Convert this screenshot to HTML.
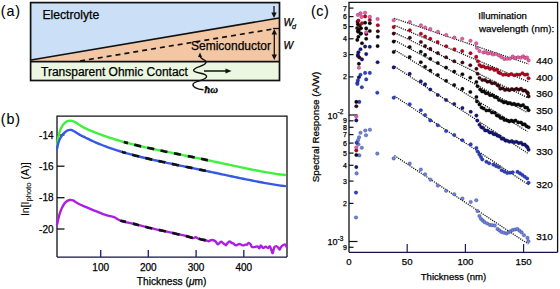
<!DOCTYPE html><html><head><meta charset="utf-8"><style>
html,body{margin:0;padding:0;background:#fff;width:560px;height:289px;overflow:hidden}
svg{display:block}
text{font-family:"Liberation Sans", sans-serif;fill:#000;stroke:#000;stroke-width:0.25px}
</style></head><body>
<svg width="560" height="289" viewBox="0 0 560 289">
<text x="0.8" y="16.4" font-size="14.3" letter-spacing="0.9" style="stroke-width:0.1px">(a)</text>
<polygon points="31,3 279,3 279,18 31,60" fill="#cbe0f6"/>
<polygon points="31,60 279,18 279,61 31,61" fill="#f3c7a4"/>
<rect x="31" y="61" width="248" height="19" fill="#ecf7e2"/>
<line x1="31" y1="60" x2="279" y2="18" stroke="#111" stroke-width="1.6"/>
<line x1="31" y1="61.6" x2="279" y2="61.6" stroke="#111" stroke-width="1.7"/>
<line x1="80" y1="61" x2="273" y2="29" stroke="#111" stroke-width="1.7" stroke-dasharray="5,4"/>
<rect x="30.6" y="2.6" width="248.9" height="77.9" fill="none" stroke="#111" stroke-width="1.7"/>
<line x1="274" y1="6" x2="274" y2="14" stroke="#111" stroke-width="1.3"/>
<polygon points="271.3,12.5 276.7,12.5 274,18" fill="#111"/>
<line x1="273" y1="28.5" x2="279" y2="28.5" stroke="#111" stroke-width="1.3"/>
<line x1="274.3" y1="33" x2="274.3" y2="56" stroke="#111" stroke-width="1.3"/>
<polygon points="271.6,34.5 277,34.5 274.3,29" fill="#111"/>
<polygon points="271.6,54.5 277,54.5 274.3,60" fill="#111"/>
<text x="42.4" y="18.9" font-size="12.2">Electrolyte</text>
<text x="191" y="49.8" font-size="12">Semiconductor</text>
<text x="41" y="76.3" font-size="12">Transparent Ohmic Contact</text>
<text x="283.6" y="26.2" font-size="10.3" font-style="italic">W</text>
<text x="292" y="28.6" font-size="7.2" font-style="italic">d</text>
<text x="283.6" y="49.2" font-size="10.3" font-style="italic">W</text>
<line x1="204" y1="71" x2="226" y2="71" stroke="#111" stroke-width="1.5"/>
<polygon points="225.5,68.6 225.5,73.4 231.6,71" fill="#111"/>
<path d="M203.5,89.8 C197,89 192.5,87 193,84.3 C193.5,81 206.5,80.5 206.6,76.5 C206.7,72.5 193.5,73.5 193.6,70.3 C193.7,66.5 206.2,66.5 206,62 C205.8,59 200,59.5 200,56" fill="none" stroke="#111" stroke-width="1.4"/>
<polygon points="198,57 202,57 200,52.5" fill="#111"/>
<text x="204.3" y="92.6" font-size="10.8" font-weight="bold" font-style="italic" style="font-family:&quot;Liberation Serif&quot;,serif">&#x127;&#x3c9;</text>
<text x="0.8" y="123.9" font-size="14.3" letter-spacing="0.9" style="stroke-width:0.1px">(b)</text>
<path d="M57,257 V116.2 H287 V257" fill="none" stroke="#111" stroke-width="1.3"/><line x1="57" y1="257.2" x2="287" y2="257.2" stroke="#121240" stroke-width="1.3"/>
<line x1="57" y1="135" x2="64.5" y2="135" stroke="#111" stroke-width="1.3"/>
<line x1="57" y1="166.2" x2="64.5" y2="166.2" stroke="#111" stroke-width="1.3"/>
<line x1="57" y1="197.7" x2="64.5" y2="197.7" stroke="#111" stroke-width="1.3"/>
<line x1="57" y1="229" x2="64.5" y2="229" stroke="#111" stroke-width="1.3"/>
<line x1="100.7" y1="250" x2="100.7" y2="257" stroke="#1a1a70" stroke-width="1.3"/>
<line x1="148.3" y1="250" x2="148.3" y2="257" stroke="#1a1a70" stroke-width="1.3"/>
<line x1="196.1" y1="250" x2="196.1" y2="257" stroke="#1a1a70" stroke-width="1.3"/>
<line x1="243.8" y1="250" x2="243.8" y2="257" stroke="#1a1a70" stroke-width="1.3"/>
<g fill="none" stroke-width="2.4" stroke-linejoin="round" stroke-linecap="round">
<path d="M57.10,145.00 C57.33,143.53 57.93,138.82 58.50,136.20 C59.07,133.58 59.70,131.27 60.50,129.30 C61.30,127.33 62.25,125.72 63.30,124.40 C64.35,123.08 65.62,122.03 66.80,121.40 C67.98,120.77 69.20,120.57 70.40,120.60 C71.60,120.63 72.82,121.08 74.00,121.60 C75.18,122.12 76.42,123.03 77.50,123.70 C78.58,124.37 79.42,124.94 80.50,125.60 C81.58,126.26 82.92,127.11 84.00,127.68 C85.08,128.26 86.00,128.61 87.00,129.06 C88.00,129.51 89.00,129.95 90.00,130.37 C91.00,130.80 92.00,131.22 93.00,131.63 C94.00,132.05 95.00,132.45 96.00,132.84 C97.00,133.24 98.00,133.62 99.00,134.00 C100.00,134.38 101.00,134.74 102.00,135.11 C103.00,135.47 104.00,135.82 105.00,136.17 C106.00,136.52 107.00,136.86 108.00,137.19 C109.00,137.52 110.00,137.85 111.00,138.17 C112.00,138.49 113.00,138.81 114.00,139.11 C115.00,139.42 116.00,139.72 117.00,140.02 C118.00,140.32 119.00,140.61 120.00,140.90 C121.00,141.18 122.00,141.46 123.00,141.74 C124.00,142.02 125.00,142.29 126.00,142.56 C127.00,142.82 128.00,143.09 129.00,143.34 C130.00,143.60 131.00,143.86 132.00,144.11 C133.00,144.36 134.00,144.61 135.00,144.85 C136.00,145.10 137.00,145.34 138.00,145.57 C139.00,145.81 140.00,146.05 141.00,146.28 C142.00,146.51 143.00,146.74 144.00,146.97 C145.00,147.19 146.00,147.42 147.00,147.64 C148.00,147.86 149.00,148.08 150.00,148.30 C151.00,148.52 152.00,148.73 153.00,148.95 C154.00,149.16 155.00,149.38 156.00,149.59 C157.00,149.80 158.00,150.01 159.00,150.22 C160.00,150.43 161.00,150.64 162.00,150.84 C163.00,151.05 164.00,151.26 165.00,151.46 C166.00,151.67 167.00,151.87 168.00,152.08 C169.00,152.28 170.00,152.48 171.00,152.69 C172.00,152.89 173.00,153.09 174.00,153.29 C175.00,153.50 176.00,153.70 177.00,153.90 C178.00,154.10 179.00,154.31 180.00,154.51 C181.00,154.71 182.00,154.91 183.00,155.12 C184.00,155.32 185.00,155.52 186.00,155.72 C187.00,155.93 188.00,156.13 189.00,156.33 C190.00,156.54 191.00,156.74 192.00,156.95 C193.00,157.15 194.00,157.36 195.00,157.56 C196.00,157.77 197.00,157.97 198.00,158.18 C199.00,158.39 200.00,158.59 201.00,158.80 C202.00,159.01 203.00,159.22 204.00,159.43 C205.00,159.64 206.00,159.85 207.00,160.06 C208.00,160.27 209.00,160.48 210.00,160.69 C211.00,160.90 212.00,161.11 213.00,161.32 C214.00,161.53 215.00,161.75 216.00,161.96 C217.00,162.17 218.00,162.39 219.00,162.60 C220.00,162.81 221.00,163.03 222.00,163.24 C223.00,163.46 224.00,163.67 225.00,163.89 C226.00,164.10 227.00,164.31 228.00,164.53 C229.00,164.74 230.00,164.96 231.00,165.17 C232.00,165.39 233.00,165.60 234.00,165.81 C235.00,166.03 236.00,166.24 237.00,166.45 C238.00,166.67 239.00,166.88 240.00,167.09 C241.00,167.30 242.00,167.51 243.00,167.72 C244.00,167.93 245.00,168.14 246.00,168.35 C247.00,168.55 248.00,168.76 249.00,168.96 C250.00,169.17 251.00,169.37 252.00,169.57 C253.00,169.77 254.00,169.97 255.00,170.16 C256.00,170.36 257.00,170.55 258.00,170.75 C259.00,170.94 260.00,171.13 261.00,171.31 C262.00,171.50 263.00,171.68 264.00,171.86 C265.00,172.04 266.00,172.22 267.00,172.39 C268.00,172.56 269.00,172.73 270.00,172.89 C271.00,173.06 272.00,173.22 273.00,173.37 C274.00,173.53 275.00,173.68 276.00,173.82 C277.00,173.97 278.00,174.11 279.00,174.24 C280.00,174.38 281.00,174.51 282.00,174.63 C283.00,174.75 284.50,174.92 285.00,174.98" stroke="#3ff03c"/>
<path d="M57.10,148.60 C57.33,147.57 57.82,144.40 58.50,142.40 C59.18,140.40 60.17,138.25 61.20,136.60 C62.23,134.95 63.50,133.57 64.70,132.50 C65.90,131.43 67.28,130.62 68.40,130.20 C69.52,129.78 70.38,129.78 71.40,130.00 C72.42,130.22 73.40,130.87 74.50,131.50 C75.60,132.13 76.92,133.13 78.00,133.80 C79.08,134.47 80.00,134.98 81.00,135.50 C82.00,136.02 83.00,136.44 84.00,136.93 C85.00,137.41 86.00,137.94 87.00,138.43 C88.00,138.92 89.00,139.39 90.00,139.86 C91.00,140.33 92.00,140.79 93.00,141.23 C94.00,141.68 95.00,142.12 96.00,142.55 C97.00,142.97 98.00,143.39 99.00,143.80 C100.00,144.21 101.00,144.61 102.00,145.00 C103.00,145.39 104.00,145.78 105.00,146.15 C106.00,146.53 107.00,146.90 108.00,147.26 C109.00,147.62 110.00,147.97 111.00,148.31 C112.00,148.66 113.00,149.00 114.00,149.33 C115.00,149.66 116.00,149.99 117.00,150.31 C118.00,150.63 119.00,150.94 120.00,151.25 C121.00,151.55 122.00,151.86 123.00,152.15 C124.00,152.45 125.00,152.74 126.00,153.03 C127.00,153.31 128.00,153.59 129.00,153.87 C130.00,154.15 131.00,154.42 132.00,154.69 C133.00,154.96 134.00,155.22 135.00,155.48 C136.00,155.74 137.00,155.99 138.00,156.25 C139.00,156.50 140.00,156.75 141.00,156.99 C142.00,157.24 143.00,157.48 144.00,157.72 C145.00,157.96 146.00,158.20 147.00,158.43 C148.00,158.67 149.00,158.90 150.00,159.13 C151.00,159.36 152.00,159.59 153.00,159.81 C154.00,160.04 155.00,160.26 156.00,160.48 C157.00,160.70 158.00,160.92 159.00,161.14 C160.00,161.36 161.00,161.58 162.00,161.79 C163.00,162.01 164.00,162.22 165.00,162.44 C166.00,162.65 167.00,162.86 168.00,163.07 C169.00,163.28 170.00,163.49 171.00,163.70 C172.00,163.91 173.00,164.12 174.00,164.33 C175.00,164.54 176.00,164.74 177.00,164.95 C178.00,165.16 179.00,165.36 180.00,165.57 C181.00,165.78 182.00,165.98 183.00,166.19 C184.00,166.40 185.00,166.60 186.00,166.81 C187.00,167.01 188.00,167.22 189.00,167.43 C190.00,167.63 191.00,167.84 192.00,168.04 C193.00,168.25 194.00,168.46 195.00,168.66 C196.00,168.87 197.00,169.08 198.00,169.28 C199.00,169.49 200.00,169.70 201.00,169.91 C202.00,170.11 203.00,170.32 204.00,170.53 C205.00,170.74 206.00,170.95 207.00,171.16 C208.00,171.36 209.00,171.57 210.00,171.78 C211.00,171.99 212.00,172.20 213.00,172.41 C214.00,172.62 215.00,172.83 216.00,173.04 C217.00,173.25 218.00,173.46 219.00,173.67 C220.00,173.88 221.00,174.10 222.00,174.31 C223.00,174.52 224.00,174.73 225.00,174.94 C226.00,175.15 227.00,175.36 228.00,175.57 C229.00,175.78 230.00,176.00 231.00,176.21 C232.00,176.42 233.00,176.63 234.00,176.84 C235.00,177.05 236.00,177.26 237.00,177.47 C238.00,177.67 239.00,177.88 240.00,178.09 C241.00,178.30 242.00,178.51 243.00,178.71 C244.00,178.92 245.00,179.12 246.00,179.33 C247.00,179.53 248.00,179.73 249.00,179.94 C250.00,180.14 251.00,180.34 252.00,180.54 C253.00,180.74 254.00,180.93 255.00,181.13 C256.00,181.32 257.00,181.52 258.00,181.71 C259.00,181.90 260.00,182.09 261.00,182.28 C262.00,182.46 263.00,182.65 264.00,182.83 C265.00,183.01 266.00,183.19 267.00,183.37 C268.00,183.55 269.00,183.72 270.00,183.89 C271.00,184.06 272.00,184.23 273.00,184.39 C274.00,184.55 275.00,184.71 276.00,184.87 C277.00,185.02 278.00,185.17 279.00,185.32 C280.00,185.47 281.00,185.61 282.00,185.74 C283.00,185.88 284.50,186.08 285.00,186.14" stroke="#3659e4"/>
<path d="M57.10,224.60 C57.43,223.10 58.30,218.37 59.10,215.60 C59.90,212.83 60.85,210.20 61.90,208.00 C62.95,205.80 64.13,203.73 65.40,202.40 C66.67,201.07 68.23,200.33 69.50,200.00 C70.77,199.67 71.50,199.77 73.00,200.40 C74.50,201.03 76.20,202.65 78.50,203.80 C80.80,204.95 83.80,206.03 86.80,207.30 C89.80,208.57 93.27,210.08 96.50,211.40 C99.73,212.72 103.27,214.23 106.20,215.20 C109.13,216.17 111.62,216.27 114.10,217.20 C116.58,218.13 117.63,219.65 121.10,220.80 C124.57,221.95 130.30,222.95 134.90,224.10 C139.50,225.25 144.10,226.60 148.70,227.70 C153.30,228.80 158.00,229.70 162.50,230.70 C167.00,231.70 171.72,232.80 175.70,233.70 C179.68,234.60 183.52,235.37 186.40,236.10 C189.28,236.83 191.48,237.92 193.00,238.10 C194.52,238.28 194.57,237.10 195.50,237.20 C196.43,237.30 197.47,238.28 198.60,238.70 C199.73,239.12 201.05,239.43 202.30,239.70 C203.55,239.97 205.05,240.05 206.10,240.30 C207.15,240.55 207.67,241.25 208.60,241.20 C209.53,241.15 210.57,240.00 211.70,240.00 C212.83,240.00 214.37,240.48 215.40,241.20 C216.43,241.92 216.97,244.20 217.90,244.30 C218.83,244.40 220.07,241.95 221.00,241.80 C221.93,241.65 222.67,242.82 223.50,243.40 C224.33,243.98 225.37,245.30 226.00,245.30 C226.63,245.30 226.70,244.05 227.30,243.40 C227.90,242.75 228.83,241.45 229.60,241.40 C230.37,241.35 231.23,242.77 231.90,243.10 C232.57,243.43 233.13,243.10 233.60,243.40 C234.07,243.70 234.13,244.62 234.70,244.90 C235.27,245.18 236.23,245.25 237.00,245.10 C237.77,244.95 238.53,244.03 239.30,244.00 C240.07,243.97 240.93,244.67 241.60,244.90 C242.27,245.13 242.63,245.45 243.30,245.40 C243.97,245.35 244.98,244.73 245.60,244.60 C246.22,244.47 246.48,244.88 247.00,244.60 C247.52,244.32 248.08,242.90 248.70,242.90 C249.32,242.90 250.17,243.93 250.70,244.60 C251.23,245.27 251.23,246.48 251.90,246.90 C252.57,247.32 253.77,247.18 254.70,247.10 C255.63,247.02 256.72,246.20 257.50,246.40 C258.28,246.60 258.83,248.45 259.40,248.30 C259.97,248.15 260.28,245.55 260.90,245.50 C261.52,245.45 262.32,247.80 263.10,248.00 C263.88,248.20 264.77,246.70 265.60,246.70 C266.43,246.70 267.38,248.05 268.10,248.00 C268.82,247.95 269.33,245.98 269.90,246.40 C270.47,246.82 271.03,249.40 271.50,250.50 C271.97,251.60 272.23,253.53 272.70,253.00 C273.17,252.47 273.72,248.45 274.30,247.30 C274.88,246.15 275.58,246.10 276.20,246.10 C276.82,246.10 277.43,246.73 278.00,247.30 C278.57,247.87 279.07,249.60 279.60,249.50 C280.13,249.40 280.53,247.48 281.20,246.70 C281.87,245.92 282.88,245.12 283.60,244.80 C284.32,244.48 285.03,244.48 285.50,244.80 C285.97,245.12 286.25,246.38 286.40,246.70" stroke="#ad1fe0"/>
</g>
<g fill="none" stroke="#111" stroke-width="2.7">
<path d="M123.8,142.0 L126.0,142.6 L128.0,143.1 M134.2,144.7 L135.0,144.9 L138.0,145.6 L141.0,146.3 L141.1,146.3 M147.3,147.7 L150.0,148.3 L153.0,148.9 L154.2,149.2 M160.5,150.5 L162.0,150.8 L165.0,151.5 L167.4,152.0 M174.0,153.3 L174.0,153.3 L177.0,153.9 L180.0,154.5 L180.9,154.7 M187.8,156.1 L189.0,156.3 L192.0,156.9 L194.7,157.5 M201.0,158.8 L201.0,158.8 L204.0,159.4 L207.0,160.1 L207.9,160.2"/>
<path d="M121.8,151.8 L123.0,152.2 L125.9,153.0 M132.1,154.7 L135.0,155.5 L138.0,156.2 L139.0,156.5 M145.3,158.0 L147.0,158.4 L150.0,159.1 L152.2,159.6 M158.4,161.0 L159.0,161.1 L162.0,161.8 L165.0,162.4 L165.3,162.5 M171.9,163.9 L174.0,164.3 L177.0,165.0 L178.8,165.3 M185.7,166.7 L186.0,166.8 L189.0,167.4 L192.0,168.0 L192.4,168.1 M199.2,169.5 L201.0,169.9 L204.0,170.5 L205.8,170.9"/>
<path d="M120.4,220.4 L121.1,220.8 L125.9,221.9 M132.8,223.6 L134.9,224.1 L139.0,225.2 M145.3,226.8 L148.7,227.7 L152.2,228.5 M158.9,229.9 L162.5,230.7 L166.0,231.5 M172.3,232.9 L175.7,233.7 L179.5,234.6 M185.8,236.0 L186.4,236.1 L192.8,238.0 M198.8,238.8 L202.3,239.7 L205.8,240.3"/>
</g>
<text x="53.5" y="138.6" font-size="10" text-anchor="end">-14</text>
<text x="53.5" y="169.8" font-size="10" text-anchor="end">-16</text>
<text x="53.5" y="201.3" font-size="10" text-anchor="end">-18</text>
<text x="53.5" y="232.6" font-size="10" text-anchor="end">-20</text>
<text x="100.7" y="270.8" font-size="10" text-anchor="middle">100</text>
<text x="148.3" y="270.8" font-size="10" text-anchor="middle">200</text>
<text x="196.1" y="270.8" font-size="10" text-anchor="middle">300</text>
<text x="243.8" y="270.8" font-size="10" text-anchor="middle">400</text>
<text x="171.6" y="284.7" font-size="10.2" text-anchor="middle">Thickness (<tspan font-style="italic">&#x3bc;</tspan>m)</text>
<text transform="translate(28.6,189) rotate(-90)" font-size="10.7" text-anchor="middle" style="stroke-width:0.1px">ln[I<tspan font-size="7.6" dy="2.6">photo</tspan><tspan dy="-2.6"> (A)]</tspan></text>
<text x="311" y="16.4" font-size="14.3" letter-spacing="0.6" style="stroke-width:0.1px">(c)</text>
<path d="M349,252.3 V2.3 H557.6 V252.3" fill="none" stroke="#111" stroke-width="1.3"/><line x1="349" y1="252.3" x2="557.6" y2="252.3" stroke="#15154a" stroke-width="1.3"/>
<line x1="349" y1="76.9" x2="353.5" y2="76.9" stroke="#111" stroke-width="1.2"/>
<text x="346.8" y="79.4" font-size="7" text-anchor="end">2</text>
<line x1="349" y1="54.6" x2="353.5" y2="54.6" stroke="#111" stroke-width="1.2"/>
<text x="346.8" y="57.1" font-size="7" text-anchor="end">3</text>
<line x1="349" y1="38.8" x2="353.5" y2="38.8" stroke="#111" stroke-width="1.2"/>
<text x="346.8" y="41.3" font-size="7" text-anchor="end">4</text>
<line x1="349" y1="26.6" x2="353.5" y2="26.6" stroke="#111" stroke-width="1.2"/>
<text x="346.8" y="29.1" font-size="7" text-anchor="end">5</text>
<line x1="349" y1="16.6" x2="353.5" y2="16.6" stroke="#111" stroke-width="1.2"/>
<text x="346.8" y="19.1" font-size="7" text-anchor="end">6</text>
<line x1="349" y1="8.1" x2="353.5" y2="8.1" stroke="#111" stroke-width="1.2"/>
<text x="346.8" y="10.6" font-size="7" text-anchor="end">7</text>
<line x1="349" y1="115.0" x2="357.5" y2="115.0" stroke="#111" stroke-width="1.2"/>
<line x1="349" y1="203.4" x2="353.5" y2="203.4" stroke="#111" stroke-width="1.2"/>
<text x="346.8" y="205.9" font-size="7" text-anchor="end">2</text>
<line x1="349" y1="181.1" x2="353.5" y2="181.1" stroke="#111" stroke-width="1.2"/>
<text x="346.8" y="183.6" font-size="7" text-anchor="end">3</text>
<line x1="349" y1="165.3" x2="353.5" y2="165.3" stroke="#111" stroke-width="1.2"/>
<text x="346.8" y="167.8" font-size="7" text-anchor="end">4</text>
<line x1="349" y1="153.1" x2="353.5" y2="153.1" stroke="#111" stroke-width="1.2"/>
<text x="346.8" y="155.6" font-size="7" text-anchor="end">5</text>
<line x1="349" y1="143.1" x2="353.5" y2="143.1" stroke="#111" stroke-width="1.2"/>
<text x="346.8" y="145.6" font-size="7" text-anchor="end">6</text>
<line x1="349" y1="134.6" x2="353.5" y2="134.6" stroke="#111" stroke-width="1.2"/>
<text x="346.8" y="137.1" font-size="7" text-anchor="end">7</text>
<line x1="349" y1="127.3" x2="353.5" y2="127.3" stroke="#111" stroke-width="1.2"/>
<text x="346.8" y="129.8" font-size="7" text-anchor="end">8</text>
<line x1="349" y1="120.8" x2="353.5" y2="120.8" stroke="#111" stroke-width="1.2"/>
<text x="346.8" y="123.3" font-size="7" text-anchor="end">9</text>
<line x1="349" y1="241.5" x2="357.5" y2="241.5" stroke="#111" stroke-width="1.2"/>
<line x1="349" y1="247.3" x2="353.5" y2="247.3" stroke="#111" stroke-width="1.2"/>
<text x="346.8" y="249.8" font-size="7" text-anchor="end">9</text>
<text x="327.5" y="118.5" font-size="9">10<tspan font-size="6.5" dy="-4.5">-2</tspan></text>
<text x="327.5" y="245.0" font-size="9">10<tspan font-size="6.5" dy="-4.5">-3</tspan></text>
<text x="349" y="265.2" font-size="9.6" text-anchor="middle">0</text>
<line x1="407.2" y1="244" x2="407.2" y2="252" stroke="#1a1a60" stroke-width="1.2"/>
<text x="407.2" y="265.2" font-size="9.6" text-anchor="middle">50</text>
<line x1="465.4" y1="244" x2="465.4" y2="252" stroke="#1a1a60" stroke-width="1.2"/>
<text x="465.4" y="265.2" font-size="9.6" text-anchor="middle">100</text>
<line x1="523.6" y1="244" x2="523.6" y2="252" stroke="#1a1a60" stroke-width="1.2"/>
<text x="523.6" y="265.2" font-size="9.6" text-anchor="middle">150</text>
<text x="453.5" y="280.3" font-size="9.6" text-anchor="middle">Thickness (nm)</text>
<text transform="translate(318.5,127) rotate(-90)" font-size="9.8" text-anchor="middle">Spectral Response (A/W)</text>
<text x="478.3" y="19.4" font-size="9.6">Illumination</text>
<text x="479" y="31.6" font-size="9.8">wavelength (nm):</text>
<text x="536.3" y="64.0" font-size="9.9">440</text>
<text x="536.3" y="80.5" font-size="9.9">400</text>
<text x="536.3" y="96.9" font-size="9.9">360</text>
<text x="536.3" y="114.3" font-size="9.9">350</text>
<text x="536.3" y="131.0" font-size="9.9">340</text>
<text x="536.3" y="155.1" font-size="9.9">330</text>
<text x="536.3" y="188.3" font-size="9.9">320</text>
<text x="536.3" y="239.9" font-size="9.9">310</text>
<line x1="394.5" y1="155.6" x2="528.4" y2="244.1" stroke="#111" stroke-width="1.25" stroke-dasharray="1.15,1.1"/>
<line x1="394.5" y1="96" x2="528.6" y2="184.8" stroke="#111" stroke-width="1.25" stroke-dasharray="1.15,1.1"/>
<line x1="394.8" y1="66.6" x2="527.6" y2="153.2" stroke="#111" stroke-width="1.25" stroke-dasharray="1.15,1.1"/>
<line x1="394.8" y1="50" x2="527.4" y2="131.5" stroke="#111" stroke-width="1.25" stroke-dasharray="1.15,1.1"/>
<line x1="395" y1="40.5" x2="527.4" y2="112.6" stroke="#111" stroke-width="1.25" stroke-dasharray="1.15,1.1"/>
<line x1="394.6" y1="32.6" x2="528" y2="97.8" stroke="#111" stroke-width="1.25" stroke-dasharray="1.15,1.1"/>
<line x1="394.5" y1="25.3" x2="528.6" y2="81.9" stroke="#111" stroke-width="1.25" stroke-dasharray="1.15,1.1"/>
<line x1="394.2" y1="18.3" x2="528.7" y2="64.1" stroke="#111" stroke-width="1.25" stroke-dasharray="1.15,1.1"/>
<g fill="#6a82e4" stroke="#000" stroke-opacity="0.35" stroke-width="0.6">
<circle cx="360.5" cy="132.8" r="1.8"/>
<circle cx="365.3" cy="130.5" r="1.8"/>
<circle cx="369.9" cy="129.8" r="1.8"/>
<circle cx="366" cy="135.3" r="1.8"/>
<circle cx="359.1" cy="137.3" r="1.8"/>
<circle cx="358" cy="140.2" r="1.8"/>
<circle cx="358.4" cy="144.3" r="1.8"/>
<circle cx="361.8" cy="147.8" r="1.8"/>
<circle cx="359.3" cy="155.4" r="1.8"/>
<circle cx="356.6" cy="173.4" r="1.8"/>
<circle cx="356" cy="217.5" r="1.8"/>
<circle cx="377.3" cy="153.6" r="1.8"/>
<circle cx="393.7" cy="158.4" r="1.8"/>
<circle cx="409.7" cy="163.5" r="1.8"/>
<circle cx="420.8" cy="169.6" r="1.8"/>
<circle cx="425.1" cy="174.4" r="1.8"/>
<circle cx="430.5" cy="179.7" r="1.8"/>
<circle cx="437.8" cy="185.6" r="1.8"/>
<circle cx="446.1" cy="190.8" r="1.8"/>
<circle cx="454.2" cy="194.2" r="1.8"/>
<circle cx="462.4" cy="198.5" r="1.8"/>
<circle cx="470.7" cy="202" r="1.8"/>
<circle cx="476.3" cy="200.3" r="1.8"/>
<circle cx="477.5" cy="211.1" r="1.8"/>
<circle cx="479.4" cy="216.0" r="1.8"/>
<circle cx="480.9" cy="218.7" r="1.8"/>
<circle cx="482.6" cy="220.4" r="1.8"/>
<circle cx="484.4" cy="222.1" r="1.8"/>
<circle cx="487.1" cy="223.5" r="1.8"/>
<circle cx="489.9" cy="224.9" r="1.8"/>
<circle cx="492.3" cy="225.2" r="1.8"/>
<circle cx="494.7" cy="225.6" r="1.8"/>
<circle cx="497.5" cy="229.0" r="1.8"/>
<circle cx="499.5" cy="230.5" r="1.8"/>
<circle cx="501.5" cy="232.0" r="1.8"/>
<circle cx="504.0" cy="232.8" r="1.8"/>
<circle cx="506.5" cy="233.5" r="1.8"/>
<circle cx="508.5" cy="232.3" r="1.8"/>
<circle cx="510.6" cy="231.2" r="1.8"/>
<circle cx="512.6" cy="230.0" r="1.8"/>
<circle cx="515.0" cy="229.5" r="1.8"/>
<circle cx="517.4" cy="229.0" r="1.8"/>
<circle cx="519.5" cy="230.7" r="1.8"/>
<circle cx="521.6" cy="232.4" r="1.8"/>
<circle cx="524.0" cy="235.2" r="1.8"/>
<circle cx="527.5" cy="237.9" r="1.8"/>
<circle cx="528.4" cy="241.3" r="1.8"/>
</g>
<g fill="#2b40cf" stroke="#000" stroke-opacity="0.35" stroke-width="0.6">
<circle cx="365.1" cy="72.9" r="1.8"/>
<circle cx="369.8" cy="72.9" r="1.8"/>
<circle cx="360.5" cy="74.7" r="1.8"/>
<circle cx="357.9" cy="80.4" r="1.8"/>
<circle cx="357.3" cy="83" r="1.8"/>
<circle cx="366.2" cy="79.4" r="1.8"/>
<circle cx="357.4" cy="83.9" r="1.8"/>
<circle cx="361.8" cy="87.2" r="1.8"/>
<circle cx="359.3" cy="101.9" r="1.8"/>
<circle cx="356.6" cy="142.8" r="1.8"/>
<circle cx="356" cy="192.6" r="1.8"/>
<circle cx="377.3" cy="92.7" r="1.8"/>
<circle cx="393.7" cy="97.8" r="1.8"/>
<circle cx="409.7" cy="104.2" r="1.8"/>
<circle cx="420.8" cy="110.2" r="1.8"/>
<circle cx="425.1" cy="115.1" r="1.8"/>
<circle cx="430.3" cy="120.4" r="1.8"/>
<circle cx="437.8" cy="125.3" r="1.8"/>
<circle cx="446.1" cy="131" r="1.8"/>
<circle cx="454.2" cy="135" r="1.8"/>
<circle cx="462.4" cy="140.2" r="1.8"/>
<circle cx="470.7" cy="144.4" r="1.8"/>
<circle cx="476.4" cy="148" r="1.8"/>
<circle cx="477.6" cy="151.5" r="1.8"/>
<circle cx="479.4" cy="154.5" r="1.8"/>
<circle cx="480.9" cy="157.0" r="1.8"/>
<circle cx="482.3" cy="159.5" r="1.8"/>
<circle cx="486.4" cy="161.8" r="1.8"/>
<circle cx="489.2" cy="163.3" r="1.8"/>
<circle cx="493.4" cy="164.6" r="1.8"/>
<circle cx="496.1" cy="166.1" r="1.8"/>
<circle cx="498.9" cy="167.3" r="1.8"/>
<circle cx="501.7" cy="170.2" r="1.8"/>
<circle cx="504.4" cy="171.6" r="1.8"/>
<circle cx="507.2" cy="173.0" r="1.8"/>
<circle cx="510.0" cy="172.7" r="1.8"/>
<circle cx="512.7" cy="172.3" r="1.8"/>
<circle cx="517.5" cy="171.9" r="1.8"/>
<circle cx="520.0" cy="173.4" r="1.8"/>
<circle cx="522.4" cy="175.0" r="1.8"/>
<circle cx="524.8" cy="176.8" r="1.8"/>
<circle cx="527.2" cy="178.5" r="1.8"/>
<circle cx="528.6" cy="182.7" r="1.8"/>
</g>
<g fill="#16167e" stroke="#000" stroke-opacity="0.35" stroke-width="0.6">
<circle cx="365.1" cy="46.6" r="1.8"/>
<circle cx="369.8" cy="46.8" r="1.8"/>
<circle cx="360.5" cy="49.2" r="1.8"/>
<circle cx="358.4" cy="52.3" r="1.8"/>
<circle cx="357.9" cy="54.9" r="1.8"/>
<circle cx="366.2" cy="54.1" r="1.8"/>
<circle cx="362" cy="59.4" r="1.8"/>
<circle cx="357.9" cy="56" r="1.8"/>
<circle cx="358.9" cy="77.3" r="1.8"/>
<circle cx="356.3" cy="120.4" r="1.8"/>
<circle cx="356.3" cy="167.1" r="1.8"/>
<circle cx="377.6" cy="62.3" r="1.8"/>
<circle cx="393.7" cy="67.4" r="1.8"/>
<circle cx="409.7" cy="73.9" r="1.8"/>
<circle cx="420.8" cy="81.4" r="1.8"/>
<circle cx="425.1" cy="84.3" r="1.8"/>
<circle cx="430.3" cy="89.5" r="1.8"/>
<circle cx="437.8" cy="95" r="1.8"/>
<circle cx="446.1" cy="100" r="1.8"/>
<circle cx="454.2" cy="104" r="1.8"/>
<circle cx="462.4" cy="108" r="1.8"/>
<circle cx="470.7" cy="111.8" r="1.8"/>
<circle cx="476.4" cy="115.6" r="1.8"/>
<circle cx="477.3" cy="120.6" r="1.8"/>
<circle cx="479.5" cy="124.8" r="1.8"/>
<circle cx="481.4" cy="127.3" r="1.8"/>
<circle cx="483.2" cy="128.0" r="1.8"/>
<circle cx="485.1" cy="130.4" r="1.8"/>
<circle cx="487.4" cy="130.6" r="1.8"/>
<circle cx="489.7" cy="132.4" r="1.8"/>
<circle cx="492.0" cy="132.6" r="1.8"/>
<circle cx="493.8" cy="134.2" r="1.8"/>
<circle cx="495.7" cy="134.2" r="1.8"/>
<circle cx="497.5" cy="135.8" r="1.8"/>
<circle cx="499.6" cy="136.4" r="1.8"/>
<circle cx="501.7" cy="138.8" r="1.8"/>
<circle cx="503.5" cy="138.8" r="1.8"/>
<circle cx="505.4" cy="140.6" r="1.8"/>
<circle cx="507.2" cy="140.7" r="1.8"/>
<circle cx="509.5" cy="141.8" r="1.8"/>
<circle cx="511.8" cy="141.1" r="1.8"/>
<circle cx="514.1" cy="142.2" r="1.8"/>
<circle cx="516.4" cy="141.8" r="1.8"/>
<circle cx="518.7" cy="143.1" r="1.8"/>
<circle cx="521.0" cy="142.7" r="1.8"/>
<circle cx="522.8" cy="144.5" r="1.8"/>
<circle cx="524.7" cy="144.5" r="1.8"/>
<circle cx="526.5" cy="146.3" r="1.8"/>
<circle cx="527.5" cy="147.2" r="1.8"/>
<circle cx="528.6" cy="149.8" r="1.8"/>
</g>
<g fill="#0a0a0a" stroke="#000" stroke-opacity="0.35" stroke-width="0.6">
<circle cx="361" cy="28.3" r="1.8"/>
<circle cx="358.6" cy="30.5" r="1.8"/>
<circle cx="358.4" cy="29.9" r="1.8"/>
<circle cx="361" cy="33.6" r="1.8"/>
<circle cx="366.2" cy="28.4" r="1.8"/>
<circle cx="369.8" cy="31" r="1.8"/>
<circle cx="357.9" cy="31.6" r="1.8"/>
<circle cx="360.5" cy="33.6" r="1.8"/>
<circle cx="358.4" cy="36.7" r="1.8"/>
<circle cx="357.3" cy="39.9" r="1.8"/>
<circle cx="366.2" cy="38.8" r="1.8"/>
<circle cx="362" cy="43.3" r="1.8"/>
<circle cx="358.9" cy="63.8" r="1.8"/>
<circle cx="356.3" cy="101.9" r="1.8"/>
<circle cx="356.3" cy="155" r="1.8"/>
<circle cx="377.6" cy="46.1" r="1.8"/>
<circle cx="393.7" cy="52" r="1.8"/>
<circle cx="409.7" cy="57.1" r="1.8"/>
<circle cx="420.8" cy="62.2" r="1.8"/>
<circle cx="425.1" cy="66.7" r="1.8"/>
<circle cx="430.3" cy="70.6" r="1.8"/>
<circle cx="437.8" cy="75.1" r="1.8"/>
<circle cx="446.1" cy="80.8" r="1.8"/>
<circle cx="454.2" cy="85" r="1.8"/>
<circle cx="462.4" cy="88.9" r="1.8"/>
<circle cx="470.3" cy="92" r="1.8"/>
<circle cx="476.4" cy="97" r="1.8"/>
<circle cx="477" cy="101.4" r="1.8"/>
<circle cx="479.5" cy="104.5" r="1.8"/>
<circle cx="481.6" cy="107.5" r="1.8"/>
<circle cx="483.7" cy="108.5" r="1.8"/>
<circle cx="486.4" cy="110.5" r="1.8"/>
<circle cx="489.2" cy="110.5" r="1.8"/>
<circle cx="491.9" cy="112.5" r="1.8"/>
<circle cx="494.7" cy="112.8" r="1.8"/>
<circle cx="496.8" cy="115.4" r="1.8"/>
<circle cx="498.9" cy="116.1" r="1.8"/>
<circle cx="500.7" cy="118.0" r="1.8"/>
<circle cx="502.6" cy="118.0" r="1.8"/>
<circle cx="504.4" cy="119.9" r="1.8"/>
<circle cx="507.2" cy="120.5" r="1.8"/>
<circle cx="509.3" cy="121.4" r="1.8"/>
<circle cx="511.4" cy="120.5" r="1.8"/>
<circle cx="513.4" cy="121.4" r="1.8"/>
<circle cx="515.5" cy="120.5" r="1.8"/>
<circle cx="518.2" cy="122.4" r="1.8"/>
<circle cx="521.0" cy="122.5" r="1.8"/>
<circle cx="522.8" cy="124.4" r="1.8"/>
<circle cx="524.7" cy="124.3" r="1.8"/>
<circle cx="526.5" cy="126.2" r="1.8"/>
<circle cx="528.6" cy="127.3" r="1.8"/>
</g>
<g fill="#0a0a0a" stroke="#000" stroke-opacity="0.35" stroke-width="0.6">
<circle cx="365.1" cy="22.7" r="1.8"/>
<circle cx="369.8" cy="23.2" r="1.8"/>
<circle cx="357.9" cy="24.2" r="1.8"/>
<circle cx="377.8" cy="36.8" r="1.8"/>
<circle cx="393.7" cy="41.6" r="1.8"/>
<circle cx="409.7" cy="47.1" r="1.8"/>
<circle cx="420.8" cy="51.8" r="1.8"/>
<circle cx="425.1" cy="54.9" r="1.8"/>
<circle cx="430.3" cy="58.7" r="1.8"/>
<circle cx="437.8" cy="63" r="1.8"/>
<circle cx="446.1" cy="67.6" r="1.8"/>
<circle cx="454.2" cy="71.6" r="1.8"/>
<circle cx="462.4" cy="74.2" r="1.8"/>
<circle cx="470.3" cy="77.7" r="1.8"/>
<circle cx="476.4" cy="82" r="1.8"/>
<circle cx="477.6" cy="86.3" r="1.8"/>
<circle cx="480.2" cy="89.5" r="1.8"/>
<circle cx="482.1" cy="91.4" r="1.8"/>
<circle cx="484.0" cy="91.5" r="1.8"/>
<circle cx="485.9" cy="93.3" r="1.8"/>
<circle cx="487.8" cy="93.3" r="1.8"/>
<circle cx="490.1" cy="95.2" r="1.8"/>
<circle cx="492.4" cy="95.2" r="1.8"/>
<circle cx="494.7" cy="97.0" r="1.8"/>
<circle cx="496.8" cy="97.5" r="1.8"/>
<circle cx="498.9" cy="99.9" r="1.8"/>
<circle cx="501.7" cy="101.0" r="1.8"/>
<circle cx="503.8" cy="102.4" r="1.8"/>
<circle cx="505.9" cy="102.0" r="1.8"/>
<circle cx="507.9" cy="103.4" r="1.8"/>
<circle cx="510.0" cy="103.0" r="1.8"/>
<circle cx="512.0" cy="104.3" r="1.8"/>
<circle cx="514.1" cy="103.8" r="1.8"/>
<circle cx="516.2" cy="105.0" r="1.8"/>
<circle cx="518.2" cy="104.5" r="1.8"/>
<circle cx="520.7" cy="105.7" r="1.8"/>
<circle cx="523.1" cy="105.1" r="1.8"/>
<circle cx="525.2" cy="107.4" r="1.8"/>
<circle cx="527.2" cy="107.8" r="1.8"/>
<circle cx="528.6" cy="110.2" r="1.8"/>
</g>
<g fill="#3c0610" stroke="#000" stroke-opacity="0.35" stroke-width="0.6">
<circle cx="359.4" cy="57.5" r="1.8"/>
<circle cx="356.3" cy="106.3" r="1.8"/>
<circle cx="357.6" cy="21.8" r="1.8"/>
<circle cx="359.8" cy="25.8" r="1.8"/>
<circle cx="357.2" cy="28" r="1.8"/>
<circle cx="366.3" cy="34" r="1.8"/>
<circle cx="377.8" cy="31.3" r="1.8"/>
<circle cx="393.7" cy="33.6" r="1.8"/>
<circle cx="409.8" cy="37.8" r="1.8"/>
<circle cx="420.9" cy="42" r="1.8"/>
<circle cx="425.1" cy="46.1" r="1.8"/>
<circle cx="430.3" cy="48.9" r="1.8"/>
<circle cx="437.8" cy="53.1" r="1.8"/>
<circle cx="446.1" cy="57.3" r="1.8"/>
<circle cx="454.2" cy="61.2" r="1.8"/>
<circle cx="462.4" cy="62.5" r="1.8"/>
<circle cx="470.3" cy="65.2" r="1.8"/>
<circle cx="476.4" cy="68.8" r="1.8"/>
<circle cx="477.6" cy="73.8" r="1.8"/>
<circle cx="479.5" cy="78.0" r="1.8"/>
<circle cx="482.3" cy="80.0" r="1.8"/>
<circle cx="485.1" cy="80.1" r="1.8"/>
<circle cx="487.4" cy="81.8" r="1.8"/>
<circle cx="489.7" cy="81.5" r="1.8"/>
<circle cx="492.0" cy="83.2" r="1.8"/>
<circle cx="494.8" cy="83.2" r="1.8"/>
<circle cx="497.5" cy="85.2" r="1.8"/>
<circle cx="498.9" cy="86.0" r="1.8"/>
<circle cx="500.3" cy="88.7" r="1.8"/>
<circle cx="502.6" cy="88.3" r="1.8"/>
<circle cx="504.9" cy="89.9" r="1.8"/>
<circle cx="507.2" cy="89.5" r="1.8"/>
<circle cx="509.5" cy="90.2" r="1.8"/>
<circle cx="511.8" cy="89.1" r="1.8"/>
<circle cx="514.1" cy="89.8" r="1.8"/>
<circle cx="516.4" cy="88.8" r="1.8"/>
<circle cx="518.7" cy="89.8" r="1.8"/>
<circle cx="521.0" cy="88.8" r="1.8"/>
<circle cx="523.1" cy="90.6" r="1.8"/>
<circle cx="525.1" cy="90.5" r="1.8"/>
<circle cx="527.2" cy="92.2" r="1.8"/>
<circle cx="527.9" cy="93.4" r="1.8"/>
<circle cx="528.6" cy="96.4" r="1.8"/>
</g>
<g fill="#c0001e" stroke="#000" stroke-opacity="0.35" stroke-width="0.6">
<circle cx="358.4" cy="20.6" r="1.8"/>
<circle cx="362" cy="23.2" r="1.8"/>
<circle cx="365.1" cy="16.4" r="1.8"/>
<circle cx="369.8" cy="20" r="1.8"/>
<circle cx="377.8" cy="25.3" r="1.8"/>
<circle cx="356.3" cy="150.5" r="1.8"/>
<circle cx="393.7" cy="27.1" r="1.8"/>
<circle cx="409.8" cy="30.2" r="1.8"/>
<circle cx="420.9" cy="33.7" r="1.8"/>
<circle cx="425.1" cy="36.5" r="1.8"/>
<circle cx="430.3" cy="38.8" r="1.8"/>
<circle cx="437.6" cy="42.1" r="1.8"/>
<circle cx="446.2" cy="46.3" r="1.8"/>
<circle cx="454.4" cy="49.4" r="1.8"/>
<circle cx="462.2" cy="51.1" r="1.8"/>
<circle cx="470.5" cy="53.2" r="1.8"/>
<circle cx="476.2" cy="56.9" r="1.8"/>
<circle cx="477.9" cy="61.3" r="1.8"/>
<circle cx="479.5" cy="65.0" r="1.8"/>
<circle cx="481.4" cy="66.5" r="1.8"/>
<circle cx="483.4" cy="66.2" r="1.8"/>
<circle cx="485.6" cy="67.8" r="1.8"/>
<circle cx="487.8" cy="67.5" r="1.8"/>
<circle cx="489.9" cy="68.9" r="1.8"/>
<circle cx="492.0" cy="68.3" r="1.8"/>
<circle cx="494.4" cy="70.0" r="1.8"/>
<circle cx="496.8" cy="69.8" r="1.8"/>
<circle cx="498.6" cy="72.4" r="1.8"/>
<circle cx="500.3" cy="73.2" r="1.8"/>
<circle cx="503.1" cy="74.8" r="1.8"/>
<circle cx="505.8" cy="74.5" r="1.8"/>
<circle cx="508.6" cy="75.2" r="1.8"/>
<circle cx="511.3" cy="74.0" r="1.8"/>
<circle cx="514.1" cy="75.2" r="1.8"/>
<circle cx="516.9" cy="74.5" r="1.8"/>
<circle cx="519.6" cy="74.8" r="1.8"/>
<circle cx="522.4" cy="73.2" r="1.8"/>
<circle cx="524.8" cy="74.8" r="1.8"/>
<circle cx="527.2" cy="74.5" r="1.8"/>
<circle cx="528.6" cy="78.2" r="1.8"/>
</g>
<g fill="#f05aa8" stroke="#000" stroke-opacity="0.35" stroke-width="0.6">
<circle cx="357.9" cy="14.9" r="1.8"/>
<circle cx="360.5" cy="13.3" r="1.8"/>
<circle cx="365.1" cy="12.8" r="1.8"/>
<circle cx="361.5" cy="16.9" r="1.8"/>
<circle cx="369.8" cy="16.9" r="1.8"/>
<circle cx="377.6" cy="19" r="1.8"/>
<circle cx="366.2" cy="32.3" r="1.8"/>
<circle cx="358.9" cy="67.7" r="1.8"/>
<circle cx="356.3" cy="116.5" r="1.8"/>
<circle cx="356.3" cy="147.5" r="1.8"/>
<circle cx="393.7" cy="20.2" r="1.8"/>
<circle cx="409.8" cy="22" r="1.8"/>
<circle cx="420.9" cy="25.4" r="1.8"/>
<circle cx="425.1" cy="27.5" r="1.8"/>
<circle cx="430.3" cy="29.1" r="1.8"/>
<circle cx="438" cy="31.9" r="1.8"/>
<circle cx="446.2" cy="35" r="1.8"/>
<circle cx="454.4" cy="37.6" r="1.8"/>
<circle cx="462.2" cy="38.7" r="1.8"/>
<circle cx="470.5" cy="40.8" r="1.8"/>
<circle cx="476.2" cy="43.4" r="1.8"/>
<circle cx="477" cy="48" r="1.8"/>
<circle cx="479.5" cy="51.1" r="1.8"/>
<circle cx="483.4" cy="52.5" r="1.8"/>
<circle cx="485.7" cy="52.0" r="1.8"/>
<circle cx="488.0" cy="53.5" r="1.8"/>
<circle cx="490.5" cy="53.0" r="1.8"/>
<circle cx="493.0" cy="54.5" r="1.8"/>
<circle cx="495.9" cy="54.0" r="1.8"/>
<circle cx="498.9" cy="55.5" r="1.8"/>
<circle cx="501.6" cy="57.3" r="1.8"/>
<circle cx="504.4" cy="59.0" r="1.8"/>
<circle cx="507.2" cy="58.8" r="1.8"/>
<circle cx="510.0" cy="58.6" r="1.8"/>
<circle cx="512.7" cy="56.6" r="1.8"/>
<circle cx="515.5" cy="57.9" r="1.8"/>
<circle cx="518.2" cy="57.3" r="1.8"/>
<circle cx="520.7" cy="57.8" r="1.8"/>
<circle cx="523.1" cy="56.3" r="1.8"/>
<circle cx="525.0" cy="57.9" r="1.8"/>
<circle cx="527.0" cy="57.5" r="1.8"/>
<circle cx="528.6" cy="60.4" r="1.8"/>
</g>
</svg></body></html>
